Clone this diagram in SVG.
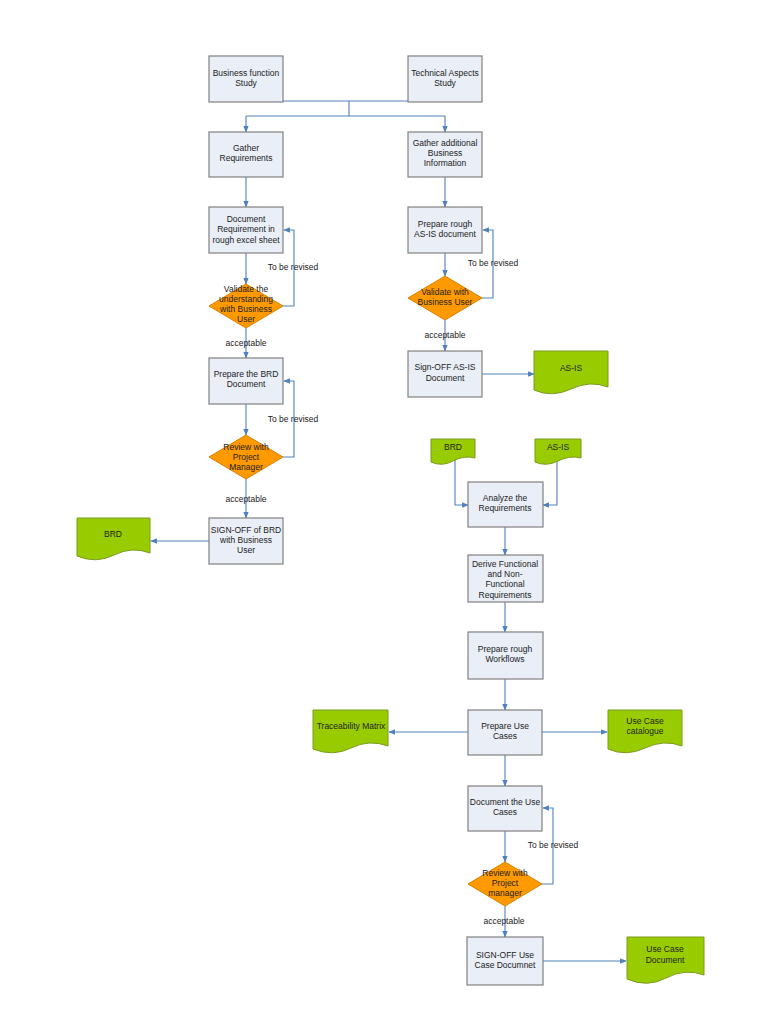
<svg xmlns="http://www.w3.org/2000/svg" width="768" height="1024" viewBox="0 0 768 1024">
<style>
.b{fill:#E9EEF7;stroke:#808080;stroke-width:1.2}
.d{fill:#FF9900;stroke:#D98000;stroke-width:1}
.g{fill:#99CC00;stroke:#7A9A20;stroke-width:1}
.t{font-family:"Liberation Sans",Arial,sans-serif;font-size:8.5px;fill:#222;text-anchor:middle}
.c{fill:none;stroke:#4F81BD;stroke-width:1.1}
</style>
<defs><marker id="a" viewBox="0 0 10 10" refX="9" refY="5" markerWidth="6" markerHeight="6" orient="auto"><path d="M0 1L10 5L0 9z" fill="#4F81BD"/></marker></defs>
<rect width="768" height="1024" fill="#fff"/>
<g id="connectors">
<path class="c" d="M283 101H408M349 101V116M246 116H445"/>
<path class="c" marker-end="url(#a)" d="M246 116V132"/>
<path class="c" marker-end="url(#a)" d="M445 116V132"/>
<path class="c" marker-end="url(#a)" d="M246 177V207"/>
<path class="c" marker-end="url(#a)" d="M246 253V284"/>
<path class="c" marker-end="url(#a)" d="M283 306H294V230H284"/>
<path class="c" marker-end="url(#a)" d="M246 328V358"/>
<path class="c" marker-end="url(#a)" d="M246 404V435"/>
<path class="c" marker-end="url(#a)" d="M283 457H294V381H284"/>
<path class="c" marker-end="url(#a)" d="M246 479V518"/>
<path class="c" marker-end="url(#a)" d="M209 541H151"/>
<path class="c" marker-end="url(#a)" d="M445 177V207"/>
<path class="c" marker-end="url(#a)" d="M445 253V276"/>
<path class="c" marker-end="url(#a)" d="M482 298H493V230H483"/>
<path class="c" marker-end="url(#a)" d="M445 320V351"/>
<path class="c" marker-end="url(#a)" d="M482 374H534"/>
<path class="c" marker-end="url(#a)" d="M455 459V505H468"/>
<path class="c" marker-end="url(#a)" d="M557 459V505H543"/>
<path class="c" marker-end="url(#a)" d="M505 527V555"/>
<path class="c" marker-end="url(#a)" d="M505 602V632"/>
<path class="c" marker-end="url(#a)" d="M505 679V710"/>
<path class="c" marker-end="url(#a)" d="M468 732H389"/>
<path class="c" marker-end="url(#a)" d="M542 732H607"/>
<path class="c" marker-end="url(#a)" d="M505 755V786"/>
<path class="c" marker-end="url(#a)" d="M505 831V862"/>
<path class="c" marker-end="url(#a)" d="M542 884H553V808H543"/>
<path class="c" marker-end="url(#a)" d="M505 906V937"/>
<path class="c" marker-end="url(#a)" d="M543 961H626"/>
<text class="t" x="293" y="270">To be revised</text>
<text class="t" x="246" y="346">acceptable</text>
<text class="t" x="293" y="422">To be revised</text>
<text class="t" x="246" y="502">acceptable</text>
<text class="t" x="493" y="266">To be revised</text>
<text class="t" x="445" y="338">acceptable</text>
<text class="t" x="553" y="848">To be revised</text>
<text class="t" x="504" y="924">acceptable</text>
</g>
<g id="n1"><rect class="b" x="209" y="56" width="74" height="46"/><text class="t" x="246" y="76">Business function</text><text class="t" x="246" y="86">Study</text></g>
<g id="n2"><rect class="b" x="408" y="56" width="74" height="46"/><text class="t" x="445" y="76">Technical Aspects</text><text class="t" x="445" y="86">Study</text></g>
<g id="n3"><rect class="b" x="209" y="132" width="74" height="45"/><text class="t" x="246" y="151">Gather</text><text class="t" x="246" y="161">Requirements</text></g>
<g id="n4"><rect class="b" x="408" y="132" width="74" height="45"/><text class="t" x="445" y="146">Gather additional</text><text class="t" x="445" y="156">Business</text><text class="t" x="445" y="166">Information</text></g>
<g id="n5"><rect class="b" x="209" y="207" width="74" height="46"/><text class="t" x="246" y="222">Document</text><text class="t" x="246" y="232">Requirement in</text><text class="t" x="246" y="243">rough excel sheet</text></g>
<g id="n6"><polygon class="d" points="246,284 283,306 246,328 209,306"/><text class="t" x="246" y="292">Validate the</text><text class="t" x="246" y="302">understanding</text><text class="t" x="246" y="312">with Business</text><text class="t" x="246" y="322">User</text></g>
<g id="n7"><rect class="b" x="209" y="358" width="74" height="46"/><text class="t" x="246" y="377">Prepare the BRD</text><text class="t" x="246" y="387">Document</text></g>
<g id="n8"><polygon class="d" points="246,435 283,457 246,479 209,457"/><text class="t" x="246" y="450">Review with</text><text class="t" x="246" y="460">Project</text><text class="t" x="246" y="470">Manager</text></g>
<g id="n9"><rect class="b" x="209" y="518" width="74" height="46"/><text class="t" x="246" y="533">SIGN-OFF of BRD</text><text class="t" x="246" y="543">with Business</text><text class="t" x="246" y="553">User</text></g>
<g id="n10"><path class="g" d="M77 518H150V553Q132 546 114 555T77 556Z"/><text class="t" x="113" y="537">BRD</text></g>
<g id="n11"><rect class="b" x="408" y="207" width="74" height="46"/><text class="t" x="445" y="227">Prepare rough</text><text class="t" x="445" y="237">AS-IS document</text></g>
<g id="n12"><polygon class="d" points="445,276 482,298 445,320 408,298"/><text class="t" x="445" y="295">Validate with</text><text class="t" x="445" y="305">Business User</text></g>
<g id="n13"><rect class="b" x="408" y="351" width="74" height="46"/><text class="t" x="445" y="370">Sign-OFF AS-IS</text><text class="t" x="445" y="381">Document</text></g>
<g id="n14"><path class="g" d="M534 351H608V387Q590 380 571 389T534 390Z"/><text class="t" x="571" y="371">AS-IS</text></g>
<g id="n15"><path class="g" d="M431 439H475V458Q464 455 453 461T431 462Z"/><text class="t" x="453" y="450">BRD</text></g>
<g id="n16"><path class="g" d="M535 439H581V458Q570 455 558 461T535 462Z"/><text class="t" x="558" y="450">AS-IS</text></g>
<g id="n17"><rect class="b" x="468" y="482" width="75" height="45"/><text class="t" x="505" y="501">Analyze the</text><text class="t" x="505" y="511">Requirements</text></g>
<g id="n18"><rect class="b" x="468" y="555" width="75" height="47"/><text class="t" x="505" y="567">Derive Functional</text><text class="t" x="505" y="577">and Non-</text><text class="t" x="505" y="587">Functional</text><text class="t" x="505" y="598">Requirements</text></g>
<g id="n19"><rect class="b" x="468" y="632" width="75" height="47"/><text class="t" x="505" y="652">Prepare rough</text><text class="t" x="505" y="662">Workflows</text></g>
<g id="n20"><rect class="b" x="468" y="710" width="74" height="45"/><text class="t" x="505" y="729">Prepare Use</text><text class="t" x="505" y="739">Cases</text></g>
<g id="n21"><path class="g" d="M313 710H388V746Q369 739 351 748T313 749Z"/><text class="t" x="351" y="729">Traceability Matrix</text></g>
<g id="n22"><path class="g" d="M608 710H682V746Q664 739 645 748T608 749Z"/><text class="t" x="645" y="724">Use Case</text><text class="t" x="645" y="734">catalogue</text></g>
<g id="n23"><rect class="b" x="468" y="786" width="74" height="45"/><text class="t" x="505" y="805">Document the Use</text><text class="t" x="505" y="815">Cases</text></g>
<g id="n24"><polygon class="d" points="505,862 542,884 505,906 468,884"/><text class="t" x="505" y="876">Review with</text><text class="t" x="505" y="886">Project</text><text class="t" x="505" y="896">manager</text></g>
<g id="n25"><rect class="b" x="467" y="937" width="76" height="48"/><text class="t" x="505" y="958">SIGN-OFF Use</text><text class="t" x="505" y="968">Case Documnet</text></g>
<g id="n26"><path class="g" d="M627 937H704V975Q685 968 666 978T627 979Z"/><text class="t" x="665" y="952">Use Case</text><text class="t" x="665" y="963">Document</text></g>
</svg>
